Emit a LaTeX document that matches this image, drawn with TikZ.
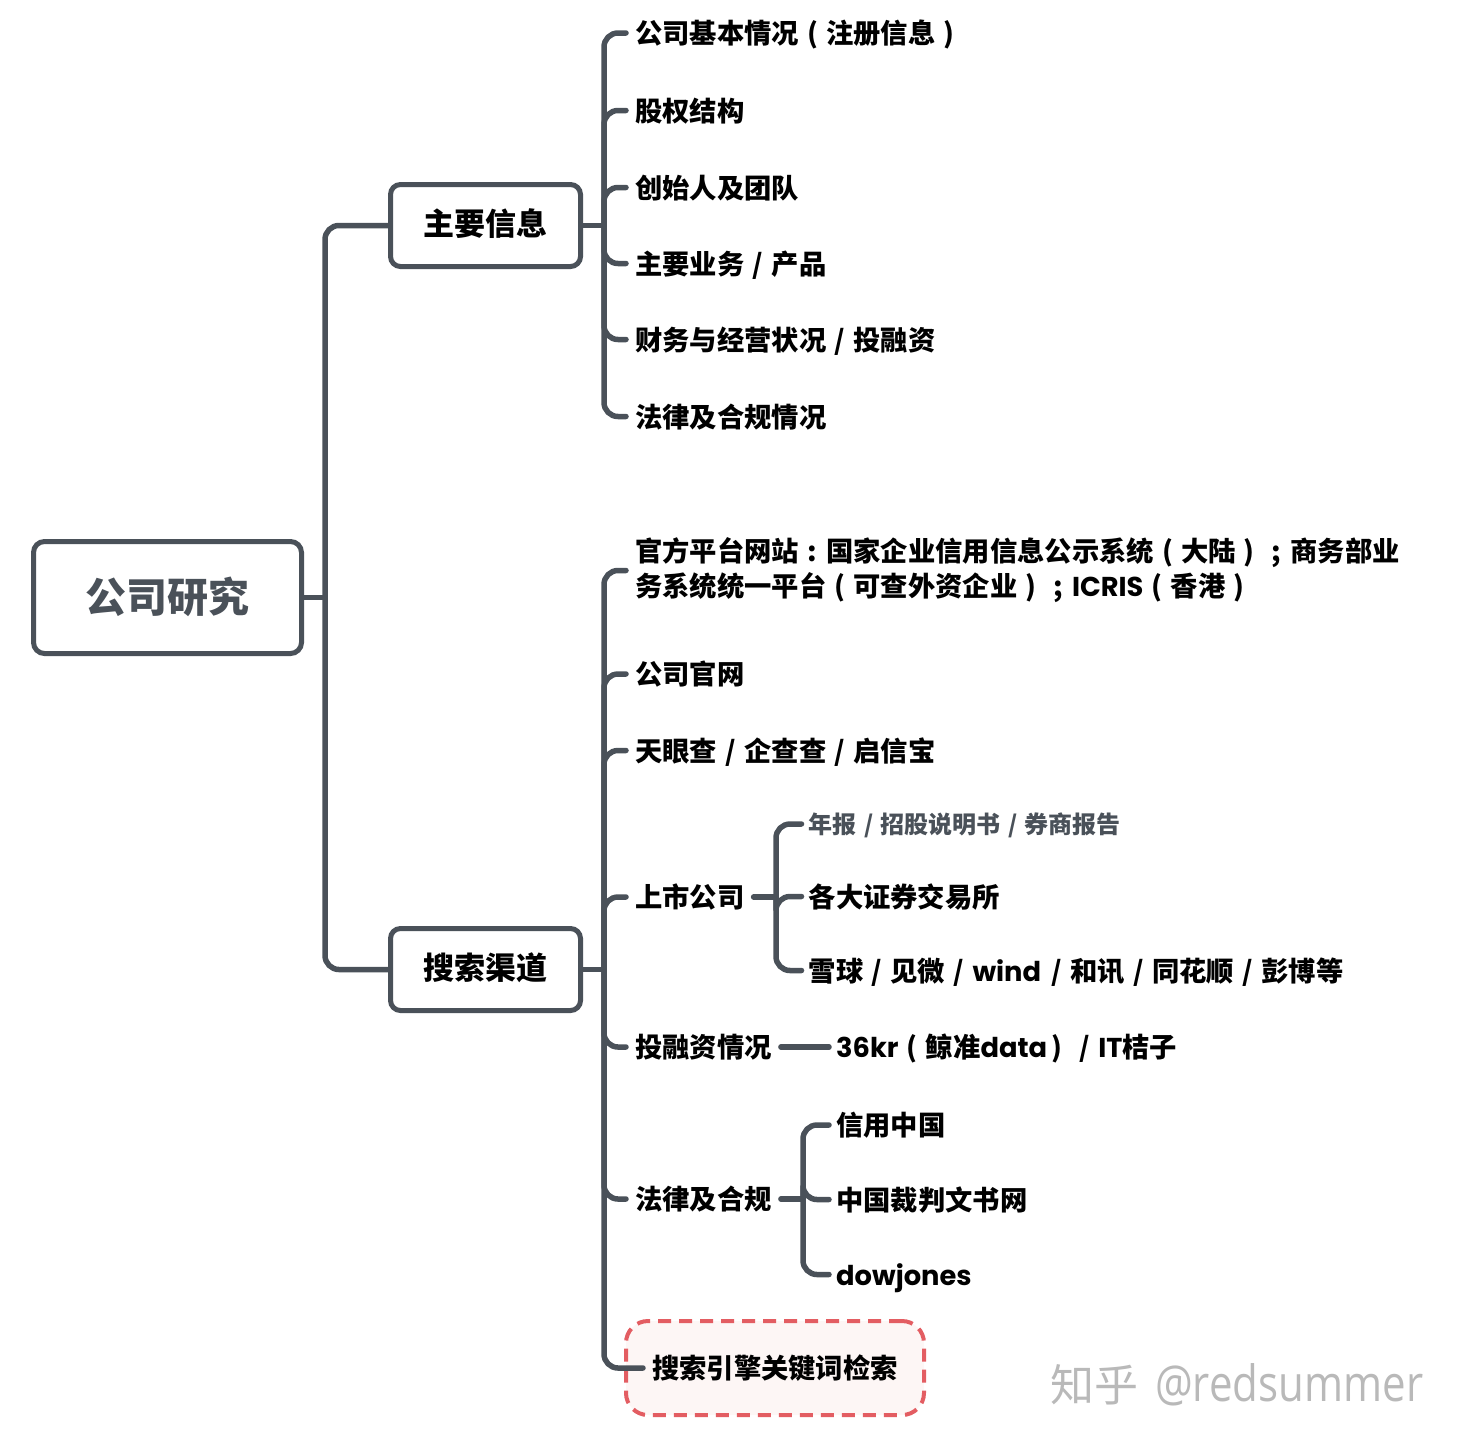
\documentclass[tikz,border=0pt]{standalone}
\usepackage{fontspec}
\setmainfont{Poppins}
\newfontfamily\cjk{Noto Sans CJK SC}
\newfontfamily\wmlatin[FakeStretch=0.84]{Open Sans}
\newcommand\Z[1]{{\cjk #1}}
\newcommand\fw[1]{\makebox[1em]{\cjk #1}}
\definecolor{ink}{HTML}{4A5159}
\definecolor{redline}{HTML}{E35D62}
\definecolor{redfill}{HTML}{FDF6F5}
\tikzset{
  connline/.style={draw=ink,line width=5.5pt,line cap=round},
  branchline/.style={connline,rounded corners=14pt},
  rootbox/.style={draw=ink,line width=5pt,rounded corners=11pt,minimum width=268pt,minimum height=112pt,inner sep=0pt,text=ink,font=\bfseries\fontsize{41}{45}\selectfont,text height=35pt,text depth=5.8pt},
  mainbox/.style={draw=ink,line width=5pt,rounded corners=10pt,minimum width=190pt,minimum height=82pt,inner sep=0pt,text=black,font=\bfseries\fontsize{31}{36}\selectfont,text height=26pt,text depth=5.4pt},
  leafnode/.style={anchor=west,inner xsep=9pt,inner ysep=0pt,text=black,font=\bfseries\fontsize{27.3}{35}\selectfont,text height=24.4pt,text depth=3pt},
  subleaf/.style={leafnode,inner xsep=7pt},
  smallleaf/.style={subleaf,text=ink,font=\bfseries\fontsize{24}{30}\selectfont,text height=21pt,text depth=3pt},
  multileaf/.style={anchor=west,inner xsep=9pt,inner ysep=0pt,text=black,align=left,font=\bfseries\fontsize{27.3}{35}\selectfont},
  redbox/.style={draw=redline,fill=redfill,line width=4pt,dash pattern=on 13pt off 8pt,rounded corners=22pt,minimum width=298pt,minimum height=94pt,inner sep=0pt,text=black,font=\bfseries\fontsize{27.3}{35}\selectfont},
  wmark/.style={text=gray!55,inner sep=0pt}
}
\begin{document}
\begin{tikzpicture}[x=1pt,y=-1pt]
\useasboundingbox (0,0) rectangle (1460,1444);
\coordinate (t0) at (325,0);
\coordinate (t1) at (604,0);
\coordinate (t2) at (776,0);
\coordinate (t3) at (803,0);

\node[rootbox] (root) at (167.5,597.5) {\Z{公司研究}};
\node[mainbox] (info) at (485.5,225.5) {\Z{主要信息}};
\node[mainbox] (search) at (485.5,969.5) {\Z{搜索渠道}};

\node[leafnode] (a1) at (626,33) {\Z{公司基本情况}\fw{(}\Z{注册信息}\fw{)}};
\node[leafnode] (a2) at (626,110.5) {\Z{股权结构}};
\node[leafnode] (a3) at (626,187.5) {\Z{创始人及团队}};
\node[leafnode] (a4) at (626,263.5) {\Z{主要业务}\fw{/}\Z{产品}};
\node[leafnode] (a5) at (626,339.5) {\Z{财务与经营状况}\fw{/}\Z{投融资}};
\node[leafnode] (a6) at (626,416.5) {\Z{法律及合规情况}};

\node[multileaf] (b1) at (626,570.5) {\Z{官方平台网站}\fw{:}\Z{国家企业信用信息公示系统}\fw{(}\Z{大陆}\fw{)}\fw{;}\Z{商务部业}\\\Z{务系统统一平台}\fw{(}\Z{可查外资企业}\fw{)}\fw{;}ICRIS\fw{(}\Z{香港}\fw{)}};
\node[leafnode] (b2) at (626,674) {\Z{公司官网}};
\node[leafnode] (b3) at (626,750.5) {\Z{天眼查}\fw{/}\Z{企查查}\fw{/}\Z{启信宝}};
\node[leafnode] (b4) at (626,897) {\Z{上市公司}};
\node[leafnode] (b5) at (626,1047) {\Z{投融资情况}};
\node[leafnode] (b6) at (626,1199) {\Z{法律及合规}};
\node[redbox] (b7) at (775,1368) {\Z{搜索引擎关键词检索}};

\node[smallleaf] (c1) at (801.5,824) {\Z{年报}\fw{/}\Z{招股说明书}\fw{/}\Z{券商报告}};
\node[subleaf] (c2) at (801.5,896.5) {\Z{各大证券交易所}};
\node[subleaf] (c3) at (801.5,970.5) {\Z{雪球}\fw{/}\Z{见微}\fw{/}wind\hspace{2pt}\fw{/}\Z{和讯}\fw{/}\Z{同花顺}\fw{/}\Z{彭博等}};
\node[subleaf] (d1) at (829,1047) {36kr\fw{(}\Z{鲸准}data\hspace{-3.5pt}\fw{)}\fw{/}IT\Z{桔子}};
\node[subleaf] (e1) at (829,1125) {\Z{信用中国}};
\node[subleaf] (e2) at (829,1199.5) {\Z{中国裁判文书网}};
\node[subleaf] (e3) at (829,1274.5) {dowjones};

\node[wmark,anchor=west,font=\fontsize{44}{50}\selectfont] (wm) at (1050,1385) {\Z{知乎}\hspace{17pt}{\wmlatin\fontsize{50}{54}\selectfont @redsummer}};

\draw[connline] (root.east) -- (root.east -| t0);
\foreach \c in {info,search}
  \draw[branchline] (root.east -| t0) -- (\c.west -| t0) -- (\c.west);

\draw[connline] (info.east) -- (info.east -| t1);
\foreach \c in {a1,a2,a3,a4,a5,a6}
  \draw[branchline] (info.east -| t1) -- (\c.west -| t1) -- (\c.west);

\draw[connline] (search.east) -- (search.east -| t1);
\foreach \c in {b1,b2,b3,b4,b5,b6}
  \draw[branchline] (search.east -| t1) -- (\c.west -| t1) -- (\c.west);
\draw[branchline] (search.east -| t1) -- (b7.west -| t1) -- ([xshift=19pt]b7.west);

\draw[connline] (b4.east) -- (b4.east -| t2);
\foreach \c in {c1,c2,c3}
  \draw[branchline] (b4.east -| t2) -- (\c.west -| t2) -- (\c.west);

\draw[connline] (b5.east) -- (d1.west);

\draw[connline] (b6.east) -- (b6.east -| t3);
\foreach \c in {e1,e2,e3}
  \draw[branchline] (b6.east -| t3) -- (\c.west -| t3) -- (\c.west);
\end{tikzpicture}
\end{document}
